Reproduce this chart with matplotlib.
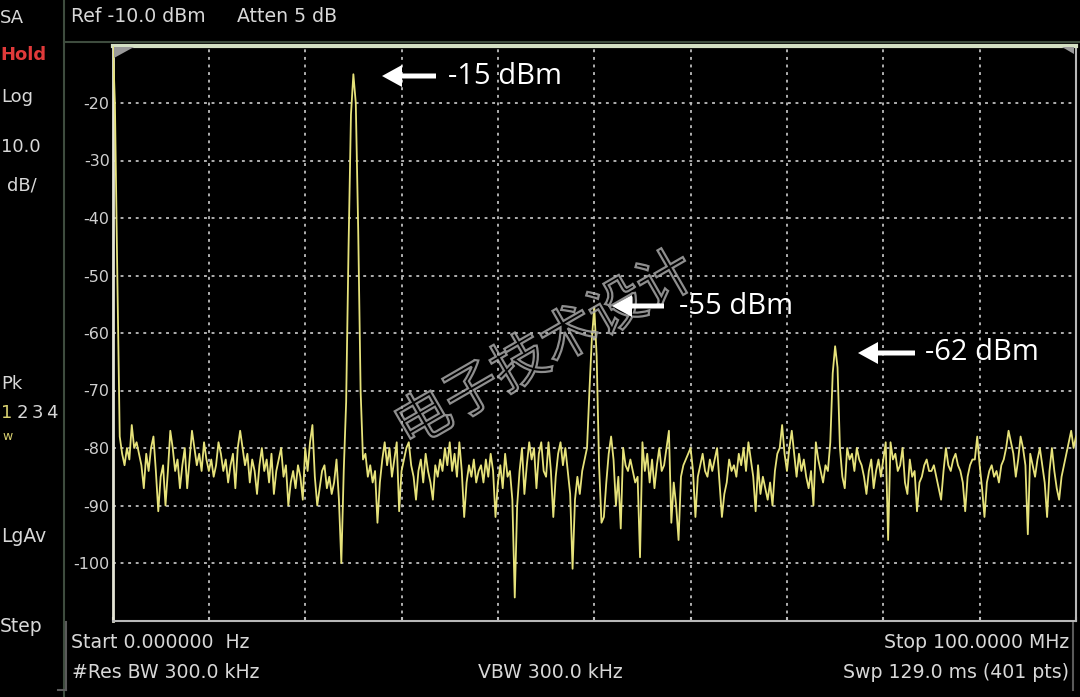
import numpy as np
import matplotlib
matplotlib.use("Agg")
import matplotlib.pyplot as plt
from matplotlib.patches import FancyArrow, PathPatch, Polygon
from matplotlib.textpath import TextPath
from matplotlib.font_manager import FontProperties
from matplotlib.transforms import Affine2D

# ---------------- data ----------------
start_mhz = 0.0
stop_mhz = 100.0
n_pts = 401

trace_00_10 = [-8, -20, -50, -78, -81, -83, -80, -82, -76, -80,
               -79, -81, -83, -87, -81, -84, -80, -78, -84, -91,
               -85, -83, -90, -84, -77, -80, -84, -82, -87, -83,
               -80, -87, -82, -77, -80, -83, -81, -84, -79, -82]
trace_10_20 = [-84, -82, -85, -83, -79, -81, -84, -82, -86, -83,
               -81, -87, -80, -77, -80, -83, -81, -86, -82, -84,
               -88, -83, -80, -84, -82, -86, -81, -88, -84, -82,
               -80, -85, -83, -90, -86, -84, -87, -83, -85, -89]
trace_20_30 = [-80, -84, -79, -76, -85, -90, -87, -84, -83, -87,
               -85, -88, -86, -82, -89, -100, -84, -72, -45, -22,
               -15, -20, -42, -70, -82, -81, -85, -83, -86, -84,
               -93, -86, -82, -79, -83, -80, -85, -82, -79, -91]
trace_30_40 = [-84, -82, -80, -79, -83, -85, -89, -84, -82, -86,
               -81, -84, -86, -89, -83, -85, -82, -84, -80, -83,
               -79, -84, -81, -85, -79, -84, -92, -86, -83, -85,
               -82, -86, -84, -83, -86, -82, -85, -81, -84, -92]
trace_40_50 = [-86, -83, -87, -81, -85, -84, -89, -106, -90, -84,
               -80, -88, -83, -79, -82, -80, -87, -81, -79, -84,
               -85, -79, -84, -92, -85, -81, -79, -83, -80, -84,
               -88, -101, -89, -85, -88, -84, -82, -80, -70, -61]
trace_50_60 = [-55.5, -64, -83, -93, -92, -86, -81, -78, -82, -90,
               -85, -94, -80, -83, -84, -82, -84, -86, -85, -99,
               -79, -84, -81, -86, -82, -87, -83, -80, -84, -83,
               -80, -77, -93, -86, -90, -96, -85, -83, -82, -81]
trace_60_70 = [-80, -84, -92, -85, -83, -81, -84, -85, -82, -84,
               -82, -80, -86, -92, -88, -86, -82, -84, -83, -85,
               -81, -83, -80, -84, -79, -82, -85, -91, -83, -88,
               -85, -87, -89, -86, -90, -84, -81, -80, -76, -81]
trace_70_80 = [-84, -80, -77, -81, -85, -81, -84, -82, -85, -87,
               -84, -90, -79, -82, -84, -86, -83, -84, -79, -67,
               -62.3, -66, -80, -85, -87, -80, -82, -81, -84, -80,
               -82, -83, -85, -88, -84, -82, -87, -84, -82, -85]
trace_80_90 = [-82, -79, -96, -79, -82, -81, -84, -83, -80, -86,
               -88, -82, -85, -84, -91, -86, -85, -83, -82, -84,
               -84, -83, -85, -87, -89, -84, -80, -83, -84, -82,
               -81, -83, -84, -86, -91, -85, -83, -82, -82, -78]
trace_90_100 = [-83, -87, -92, -86, -84, -83, -85, -84, -86, -83,
                -82, -80, -77, -79, -81, -85, -82, -78, -80, -83,
                -95, -81, -83, -85, -82, -80, -83, -86, -92, -84,
                -80, -84, -87, -89, -85, -83, -81, -79, -77, -80,
                -78]

y_ticks = [-20, -30, -40, -50, -60, -70, -80, -90, -100]
marker_labels = ["-15 dBm", "-55 dBm", "-62 dBm"]

amp = np.array(trace_00_10 + trace_10_20 + trace_20_30 + trace_30_40 + trace_40_50
               + trace_50_60 + trace_60_70 + trace_70_80 + trace_80_90 + trace_90_100)
freq = np.linspace(start_mhz, stop_mhz, n_pts)

# ---------------- figure ----------------
W, H = 1080, 697
fig = plt.figure(figsize=(W / 100, H / 100), dpi=100, facecolor="black")

bg = fig.add_axes([0, 0, 1, 1], zorder=0)
bg.set_xlim(0, W)
bg.set_ylim(H, 0)
bg.set_facecolor("black")
bg.axis("off")

# plot area in pixels
L, R, T, B = 112.5, 1076, 45.5, 620.5
ax = fig.add_axes([L / W, 1 - B / H, (R - L) / W, (B - T) / H], zorder=1)
ax.set_facecolor("black")
ax.set_xlim(start_mhz, stop_mhz)
ax.set_ylim(-110, -10)
ax.set_xticks(np.arange(0, 101, 10))
ax.set_xticklabels([])
ax.set_yticks(y_ticks)
ax.set_yticklabels([str(v) for v in y_ticks], fontfamily="DejaVu Sans",
                   fontsize=11.5, color="#cfcfcf")
ax.tick_params(axis="y", length=0, pad=2)
ax.tick_params(axis="x", length=3, direction="in", color="#bcbcbc", width=1.5)
ax.grid(True, color="#bdbdbd", linestyle=(0, (1.6, 2.6)), linewidth=1.3)
ax.set_axisbelow(True)
ax.spines["left"].set_color("#e6e6d6")
ax.spines["left"].set_linewidth(2)
ax.spines["top"].set_color("#d4e0c4")
ax.spines["top"].set_linewidth(3)
ax.spines["right"].set_color("#b8b8b8")
ax.spines["right"].set_linewidth(1.5)
ax.spines["bottom"].set_color("#b8b8b8")
ax.spines["bottom"].set_linewidth(1.5)

ax.plot(freq, amp, color="#e6e27a", linewidth=1.3, zorder=3)

# ---------------- frame lines ----------------
line_c = "#3e4c3e"
bg.plot([64, 64], [0, H], color=line_c, lw=1.5)
bg.plot([64, W], [42, 42], color=line_c, lw=1.5)
bg.plot([66, 66], [622, 690], color="#5a5a5a", lw=1.5)
bg.plot([1073, 1073], [622, 690], color="#5a5a5a", lw=1.5)
bg.plot([58, 66], [690, 690], color="#5a5a5a", lw=1.5)

# ---------------- text ----------------
tc = "#d8d8d8"
fkw = dict(fontfamily="DejaVu Sans", va="center")
bg.text(0, 18, "SA", color=tc, fontsize=13, **fkw)
bg.text(0, 55, "Hold", color="#e03a3a", fontsize=13, fontweight="bold", **fkw)
bg.text(1, 97, "Log", color=tc, fontsize=13, **fkw)
bg.text(1, 147, "10.0", color=tc, fontsize=13, **fkw)
bg.text(7, 185, "dB/", color=tc, fontsize=13, **fkw)
bg.text(1, 384, "Pk", color=tc, fontsize=13, **fkw)
for xc, ch, col in [(6.5, "1", "#d8d070"), (22.5, "2", tc), (37.5, "3", tc), (52, "4", tc)]:
    bg.text(xc, 413, ch, color=col, fontsize=13, ha="center", **fkw)
bg.text(2, 436, "w", color="#d8d070", fontsize=9, **fkw)
bg.text(1, 537, "LgAv", color=tc, fontsize=13.5, **fkw)
bg.text(0, 627, "Step", color=tc, fontsize=13.5, **fkw)

fs = 13.6
bg.text(71, 16, "Ref -10.0 dBm", color=tc, fontsize=fs, **fkw)
bg.text(237, 16, "Atten 5 dB", color=tc, fontsize=fs, **fkw)
bg.text(71, 642, "Start 0.000000  Hz", color=tc, fontsize=fs, **fkw)
bg.text(72, 673, "#Res BW 300.0 kHz", color=tc, fontsize=fs, **fkw)
bg.text(478, 673, "VBW 300.0 kHz", color=tc, fontsize=fs, **fkw)
bg.text(1069, 642, "Stop 100.0000 MHz", color=tc, fontsize=fs, ha="right", **fkw)
bg.text(1069, 673, "Swp 129.0 ms (401 pts)", color=tc, fontsize=fs, ha="right", **fkw)

# ---------------- overlay ----------------
ov = fig.add_axes([0, 0, 1, 1], zorder=5)
ov.set_xlim(0, W)
ov.set_ylim(H, 0)
ov.patch.set_alpha(0)
ov.axis("off")

# corner marks
ov.add_patch(Polygon([(114, 47), (134, 47), (114, 58)], closed=True, color="#9a9a9a", lw=0))
ov.add_patch(Polygon([(1074, 47), (1062, 47), (1074, 54)], closed=True, color="#9a9a9a", lw=0))

# watermark
tp = TextPath((0, 0), "电子技术设计", size=56,
              prop=FontProperties(family="Noto Sans CJK SC"))
ext = tp.get_extents()
cx, cy = (ext.x0 + ext.x1) / 2, (ext.y0 + ext.y1) / 2
tr = Affine2D().translate(-cx, -cy).scale(1, -1).rotate_deg(-30).translate(545, 345)
wm = tr.transform_path(tp)
ov.add_patch(PathPatch(wm, facecolor="none", edgecolor="#a8a8a8", lw=1.6, alpha=0.85))

# arrows + labels
arrows = [(436, 382, 76, 448), (664, 612, 306, 679), (915, 858, 353, 925)]
for (tail, tip, yy, tx), lab in zip(arrows, marker_labels):
    ov.add_patch(FancyArrow(tail, yy, tip - tail, 0, width=5, head_width=22,
                            head_length=20, length_includes_head=True,
                            color="white", lw=0))
    ov.text(tx, yy, lab, color="white", fontsize=21, fontfamily="Open Sans",
            va="center", ha="left")

fig.savefig("out.png", dpi=100, facecolor="black")
